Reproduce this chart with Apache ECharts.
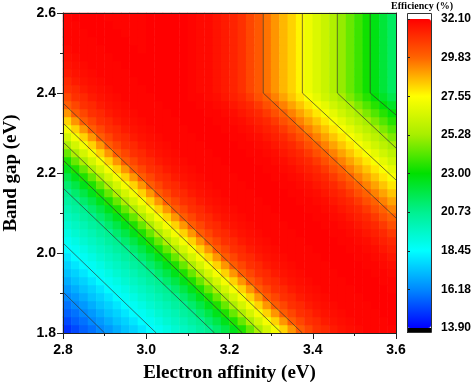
<!DOCTYPE html>
<html><head><meta charset="utf-8">
<script src="https://cdn.jsdelivr.net/npm/echarts@6/dist/echarts.min.js"></script>
<style>html,body{margin:0;padding:0;background:#fff}#c{width:474px;height:386px}</style>
</head><body><div id="c"></div>
<script>
// cell centres (eV)
const electronAffinity = [2.81,2.83,2.85,2.87,2.89,2.91,2.93,2.95,2.97,2.99,3.01,3.03,3.05,3.07,3.09,3.11,3.13,3.15,3.17,3.19,3.21,3.23,3.25,3.27,3.29,3.31,3.33,3.35,3.37,3.39,3.41,3.43,3.45,3.47,3.49,3.51,3.53,3.55,3.57,3.59];
const bandGap = [1.81,1.83,1.85,1.87,1.89,1.91,1.93,1.95,1.97,1.99,2.01,2.03,2.05,2.07,2.09,2.11,2.13,2.15,2.17,2.19,2.21,2.23,2.25,2.27,2.29,2.31,2.33,2.35,2.37,2.39,2.41,2.43,2.45,2.47,2.49,2.51,2.53,2.55,2.57,2.59];
// efficiency (%) rows from bottom (Eg=1.81) to top (Eg=2.59)
const efficiency = [
[14.7,15.1,15.5,15.8,16.2,16.5,16.9,17.3,17.6,18.0,18.4,18.7,19.0,19.4,19.7,20.0,20.4,20.7,21.3,21.9,22.6,23.4,24.4,25.4,26.4,27.3,28.2,29.1,30.0,30.5,31.0,31.2,31.5,31.7,31.8,31.9,32.0,32.0,32.0,32.0],
[15.1,15.5,15.8,16.2,16.5,16.9,17.3,17.6,18.0,18.4,18.7,19.0,19.4,19.7,20.0,20.4,20.7,21.3,21.9,22.6,23.4,24.4,25.4,26.4,27.3,28.2,29.1,30.0,30.5,31.0,31.2,31.5,31.7,31.8,31.9,32.0,32.0,32.0,32.0,32.1],
[15.5,15.8,16.2,16.5,16.9,17.3,17.6,18.0,18.4,18.7,19.0,19.4,19.7,20.0,20.4,20.7,21.3,21.9,22.6,23.4,24.4,25.4,26.4,27.3,28.2,29.1,30.0,30.5,31.0,31.2,31.5,31.7,31.8,31.9,32.0,32.0,32.0,32.0,32.1,32.1],
[15.8,16.2,16.5,16.9,17.3,17.6,18.0,18.4,18.7,19.0,19.4,19.7,20.0,20.4,20.7,21.3,21.9,22.6,23.4,24.4,25.4,26.4,27.3,28.2,29.1,30.0,30.5,31.0,31.2,31.5,31.7,31.8,31.9,32.0,32.0,32.0,32.0,32.1,32.1,32.1],
[16.2,16.5,16.9,17.3,17.6,18.0,18.4,18.7,19.0,19.4,19.7,20.0,20.4,20.7,21.3,21.9,22.6,23.4,24.4,25.4,26.4,27.3,28.2,29.1,30.0,30.5,31.0,31.2,31.5,31.7,31.8,31.9,32.0,32.0,32.0,32.0,32.1,32.1,32.1,32.1],
[16.5,16.9,17.3,17.6,18.0,18.4,18.7,19.0,19.4,19.7,20.0,20.4,20.7,21.3,21.9,22.6,23.4,24.4,25.4,26.4,27.3,28.2,29.1,30.0,30.5,31.0,31.2,31.5,31.7,31.8,31.9,32.0,32.0,32.0,32.0,32.1,32.1,32.1,32.1,32.0],
[16.9,17.3,17.6,18.0,18.4,18.7,19.0,19.4,19.7,20.0,20.4,20.7,21.3,21.9,22.6,23.4,24.4,25.4,26.4,27.3,28.2,29.1,30.0,30.5,31.0,31.2,31.5,31.7,31.8,31.9,32.0,32.0,32.0,32.0,32.1,32.1,32.1,32.1,32.0,32.0],
[17.3,17.6,18.0,18.4,18.7,19.0,19.4,19.7,20.0,20.4,20.7,21.3,21.9,22.6,23.4,24.4,25.4,26.4,27.3,28.2,29.1,30.0,30.5,31.0,31.2,31.5,31.7,31.8,31.9,32.0,32.0,32.0,32.0,32.1,32.1,32.1,32.1,32.0,32.0,31.9],
[17.6,18.0,18.4,18.7,19.0,19.4,19.7,20.0,20.4,20.7,21.3,21.9,22.6,23.4,24.4,25.4,26.4,27.3,28.2,29.1,30.0,30.5,31.0,31.2,31.5,31.7,31.8,31.9,32.0,32.0,32.0,32.0,32.1,32.1,32.1,32.1,32.0,32.0,31.9,31.8],
[18.0,18.4,18.7,19.0,19.4,19.7,20.0,20.4,20.7,21.3,21.9,22.6,23.4,24.4,25.4,26.4,27.3,28.2,29.1,30.0,30.5,31.0,31.2,31.5,31.7,31.8,31.9,32.0,32.0,32.0,32.0,32.1,32.1,32.1,32.1,32.0,32.0,31.9,31.8,31.6],
[18.4,18.7,19.0,19.4,19.7,20.0,20.4,20.7,21.3,21.9,22.6,23.4,24.4,25.4,26.4,27.3,28.2,29.1,30.0,30.5,31.0,31.2,31.5,31.7,31.8,31.9,32.0,32.0,32.0,32.0,32.1,32.1,32.1,32.1,32.0,32.0,31.9,31.8,31.6,31.4],
[18.7,19.0,19.4,19.7,20.0,20.4,20.7,21.3,21.9,22.6,23.4,24.4,25.4,26.4,27.3,28.2,29.1,30.0,30.5,31.0,31.2,31.5,31.7,31.8,31.9,32.0,32.0,32.0,32.0,32.1,32.1,32.1,32.1,32.0,32.0,31.9,31.8,31.6,31.4,31.2],
[19.0,19.4,19.7,20.0,20.4,20.7,21.3,21.9,22.6,23.4,24.4,25.4,26.4,27.3,28.2,29.1,30.0,30.5,31.0,31.2,31.5,31.7,31.8,31.9,32.0,32.0,32.0,32.0,32.1,32.1,32.1,32.1,32.0,32.0,31.9,31.8,31.6,31.4,31.2,30.8],
[19.4,19.7,20.0,20.4,20.7,21.3,21.9,22.6,23.4,24.4,25.4,26.4,27.3,28.2,29.1,30.0,30.5,31.0,31.2,31.5,31.7,31.8,31.9,32.0,32.0,32.0,32.0,32.1,32.1,32.1,32.1,32.0,32.0,31.9,31.8,31.6,31.4,31.2,30.8,30.3],
[19.7,20.0,20.4,20.7,21.3,21.9,22.6,23.4,24.4,25.4,26.4,27.3,28.2,29.1,30.0,30.5,31.0,31.2,31.5,31.7,31.8,31.9,32.0,32.0,32.0,32.0,32.1,32.1,32.1,32.1,32.0,32.0,31.9,31.8,31.6,31.4,31.2,30.8,30.3,29.9],
[20.0,20.4,20.7,21.3,21.9,22.6,23.4,24.4,25.4,26.4,27.3,28.2,29.1,30.0,30.5,31.0,31.2,31.5,31.7,31.8,31.9,32.0,32.0,32.0,32.0,32.1,32.1,32.1,32.1,32.0,32.0,31.9,31.8,31.6,31.4,31.2,30.8,30.3,29.9,29.4],
[20.4,20.7,21.3,21.9,22.6,23.4,24.4,25.4,26.4,27.3,28.2,29.1,30.0,30.5,31.0,31.2,31.5,31.7,31.8,31.9,32.0,32.0,32.0,32.0,32.1,32.1,32.1,32.1,32.0,32.0,31.9,31.8,31.6,31.4,31.2,30.8,30.3,29.9,29.4,28.9],
[20.7,21.3,21.9,22.6,23.4,24.4,25.4,26.4,27.3,28.2,29.1,30.0,30.5,31.0,31.2,31.5,31.7,31.8,31.9,32.0,32.0,32.0,32.0,32.1,32.1,32.1,32.1,32.0,32.0,31.9,31.8,31.6,31.4,31.2,30.8,30.3,29.9,29.4,28.9,28.4],
[21.3,21.9,22.6,23.4,24.4,25.4,26.4,27.3,28.2,29.1,30.0,30.5,31.0,31.2,31.5,31.7,31.8,31.9,32.0,32.0,32.0,32.0,32.1,32.1,32.1,32.1,32.0,32.0,31.9,31.8,31.6,31.4,31.2,30.8,30.3,29.9,29.4,28.9,28.4,27.9],
[21.9,22.6,23.4,24.4,25.4,26.4,27.3,28.2,29.1,30.0,30.5,31.0,31.2,31.5,31.7,31.8,31.9,32.0,32.0,32.0,32.0,32.1,32.1,32.1,32.1,32.0,32.0,31.9,31.8,31.6,31.4,31.2,30.8,30.3,29.9,29.4,28.9,28.4,27.9,27.4],
[22.6,23.4,24.4,25.4,26.4,27.3,28.2,29.1,30.0,30.5,31.0,31.2,31.5,31.7,31.8,31.9,32.0,32.0,32.0,32.0,32.1,32.1,32.1,32.1,32.0,32.0,31.9,31.8,31.6,31.4,31.2,30.8,30.3,29.9,29.4,28.9,28.4,27.9,27.4,26.9],
[23.4,24.4,25.4,26.4,27.3,28.2,29.1,30.0,30.5,31.0,31.2,31.5,31.7,31.8,31.9,32.0,32.0,32.0,32.0,32.1,32.1,32.1,32.1,32.0,32.0,31.9,31.8,31.6,31.4,31.2,30.8,30.3,29.9,29.4,28.9,28.4,27.9,27.4,26.9,26.3],
[24.4,25.4,26.4,27.3,28.2,29.1,30.0,30.5,31.0,31.2,31.5,31.7,31.8,31.9,32.0,32.0,32.0,32.0,32.1,32.1,32.1,32.1,32.0,32.0,31.9,31.8,31.6,31.4,31.2,30.8,30.3,29.9,29.4,28.9,28.4,27.9,27.4,26.9,26.3,25.8],
[25.4,26.4,27.3,28.2,29.1,30.0,30.5,31.0,31.2,31.5,31.7,31.8,31.9,32.0,32.0,32.0,32.0,32.1,32.1,32.1,32.1,32.0,32.0,31.9,31.8,31.6,31.4,31.2,30.8,30.3,29.9,29.4,28.9,28.4,27.9,27.4,26.9,26.3,25.8,25.3],
[26.4,27.3,28.2,29.1,30.0,30.5,31.0,31.2,31.5,31.7,31.8,31.9,32.0,32.0,32.0,32.0,32.1,32.1,32.1,32.1,32.0,32.0,31.9,31.8,31.6,31.4,31.2,30.8,30.3,29.9,29.4,28.9,28.4,27.9,27.4,26.9,26.3,25.8,25.3,24.7],
[27.3,28.2,29.1,30.0,30.5,31.0,31.2,31.5,31.7,31.8,31.9,32.0,32.0,32.0,32.0,32.1,32.1,32.1,32.1,32.0,32.0,31.9,31.8,31.6,31.4,31.2,30.8,30.3,29.9,29.4,28.9,28.4,27.9,27.4,26.9,26.3,25.8,25.3,24.7,24.1],
[28.2,29.1,30.0,30.5,31.0,31.2,31.5,31.7,31.8,31.9,32.0,32.0,32.0,32.0,32.1,32.1,32.1,32.1,32.0,32.0,31.9,31.8,31.6,31.4,31.2,30.8,30.3,29.9,29.4,28.9,28.4,27.9,27.4,26.9,26.3,25.8,25.3,24.7,24.1,23.5],
[29.1,30.0,30.5,31.0,31.2,31.5,31.7,31.8,31.9,32.0,32.0,32.0,32.0,32.1,32.1,32.1,32.1,32.0,32.0,31.9,31.8,31.6,31.4,31.2,30.8,30.3,29.9,29.4,28.9,28.4,27.9,27.4,26.9,26.3,25.8,25.3,24.7,24.1,23.5,22.9],
[30.0,30.5,31.0,31.2,31.5,31.7,31.8,31.9,32.0,32.0,32.0,32.0,32.1,32.1,32.1,32.1,32.0,32.0,31.9,31.8,31.6,31.4,31.2,30.8,30.3,29.9,29.4,28.9,28.4,27.9,27.4,26.9,26.3,25.8,25.3,24.7,24.1,23.5,22.9,22.4],
[30.5,31.0,31.2,31.5,31.7,31.8,31.9,32.0,32.0,32.0,32.0,32.1,32.1,32.1,32.1,32.0,32.0,31.9,31.8,31.6,31.4,31.2,30.8,30.3,29.9,29.4,28.9,28.4,27.9,27.4,26.9,26.3,25.8,25.3,24.7,24.1,23.5,22.9,22.4,21.8],
[31.0,31.2,31.5,31.7,31.8,31.9,32.0,32.0,32.0,32.0,32.1,32.1,32.1,32.1,32.1,32.0,31.9,31.9,31.7,31.5,31.3,31.0,30.5,30.1,29.6,29.1,28.6,28.2,27.7,27.1,26.6,26.1,25.5,25.0,24.4,23.8,23.2,22.7,22.1,21.5],
[31.2,31.5,31.7,31.8,31.9,32.0,32.0,32.0,32.0,32.1,32.1,32.1,32.1,32.1,32.1,32.0,31.9,31.9,31.7,31.5,31.3,31.0,30.5,30.1,29.6,29.1,28.6,28.2,27.7,27.1,26.6,26.1,25.5,25.0,24.4,23.8,23.2,22.7,22.1,21.5],
[31.5,31.7,31.8,31.9,32.0,32.0,32.0,32.0,32.1,32.1,32.1,32.1,32.1,32.1,32.1,32.0,31.9,31.9,31.7,31.5,31.3,31.0,30.5,30.1,29.6,29.1,28.6,28.2,27.7,27.1,26.6,26.1,25.5,25.0,24.4,23.8,23.2,22.7,22.1,21.5],
[31.7,31.8,31.9,32.0,32.0,32.0,32.0,32.1,32.1,32.1,32.1,32.1,32.1,32.1,32.1,32.0,31.9,31.9,31.7,31.5,31.3,31.0,30.5,30.1,29.6,29.1,28.6,28.2,27.7,27.1,26.6,26.1,25.5,25.0,24.4,23.8,23.2,22.7,22.1,21.5],
[31.8,31.9,32.0,32.0,32.0,32.0,32.1,32.1,32.1,32.1,32.1,32.1,32.1,32.1,32.1,32.0,31.9,31.9,31.7,31.5,31.3,31.0,30.5,30.1,29.6,29.1,28.6,28.2,27.7,27.1,26.6,26.1,25.5,25.0,24.4,23.8,23.2,22.7,22.1,21.5],
[31.9,32.0,32.0,32.0,32.0,32.1,32.1,32.1,32.1,32.0,32.1,32.1,32.1,32.1,32.1,32.0,31.9,31.9,31.7,31.5,31.3,31.0,30.5,30.1,29.6,29.1,28.6,28.2,27.7,27.1,26.6,26.1,25.5,25.0,24.4,23.8,23.2,22.7,22.1,21.5],
[32.0,32.0,32.0,32.0,32.1,32.1,32.1,32.1,32.0,32.0,32.1,32.1,32.1,32.1,32.1,32.0,31.9,31.9,31.7,31.5,31.3,31.0,30.5,30.1,29.6,29.1,28.6,28.2,27.7,27.1,26.6,26.1,25.5,25.0,24.4,23.8,23.2,22.7,22.1,21.5],
[32.0,32.0,32.0,32.1,32.1,32.1,32.1,32.0,32.0,32.0,32.1,32.1,32.1,32.1,32.1,32.0,31.9,31.9,31.7,31.5,31.3,31.0,30.5,30.1,29.6,29.1,28.6,28.2,27.7,27.1,26.6,26.1,25.5,25.0,24.4,23.8,23.2,22.7,22.1,21.5],
[32.0,32.0,32.1,32.1,32.1,32.1,32.0,32.0,32.0,32.0,32.1,32.1,32.1,32.1,32.1,32.0,31.9,31.9,31.7,31.5,31.3,31.0,30.5,30.1,29.6,29.1,28.6,28.2,27.7,27.1,26.6,26.1,25.5,25.0,24.4,23.8,23.2,22.7,22.1,21.5],
[32.0,32.1,32.1,32.1,32.1,32.0,32.0,32.0,32.0,32.0,32.1,32.1,32.1,32.1,32.1,32.0,31.9,31.9,31.7,31.5,31.3,31.0,30.5,30.1,29.6,29.1,28.6,28.2,27.7,27.1,26.6,26.1,25.5,25.0,24.4,23.8,23.2,22.7,22.1,21.5]
];
// contour lines (EA, Eg)
const contour1618 = [[2.8,1.9025],[2.9,1.8]];
const contour1845 = [[2.8,2.025],[3.024,1.8]];
const contour2073 = [[2.8,2.1625],[3.164,1.8]];
const contour2300a = [[2.8,2.2325],[3.231,1.8]];
const contour2528a = [[2.8,2.2775],[3.277,1.8]];
const contour2755a = [[2.8,2.325],[3.325,1.8]];
const contour2983a = [[2.8,2.375],[3.375,1.8]];
const contour2983b = [[3.281,2.6],[3.281,2.4],[3.6,2.0875]];
const contour2755b = [[3.375,2.6],[3.375,2.4],[3.6,2.1825]];
const contour2528b = [[3.459,2.6],[3.459,2.4],[3.6,2.2625]];
const contour2300b = [[3.538,2.6],[3.538,2.4],[3.6,2.345]];
const contourSet = [contour1618,contour1845,contour2073,contour2300a,contour2528a,contour2755a,contour2983a,contour2983b,contour2755b,contour2528b,contour2300b];
// colour bar ticks
const cbTickValues = [13.90,16.18,18.45,20.73,23.00,25.28,27.55,29.83,32.10];
const cbTickLabels = ['13.90','16.18','18.45','20.73','23.00','25.28','27.55','29.83','32.10'];
const cbColors = ['#0000ff','#0088ff','#00ffff','#00f090','#00e000','#a8ee00','#ffff00','#ff6400','#ff0000'];

const heatData = [];
for (let j = 0; j < bandGap.length; j++) {
  for (let i = 0; i < electronAffinity.length; i++) {
    heatData.push([i, j, efficiency[j][i]]);
  }
}
const labelFont = {fontFamily: 'Liberation Sans', fontWeight: 'bold', fontSize: 14, color: '#000'};
const nameFont = {fontFamily: 'Liberation Serif', fontWeight: 'bold', fontSize: 19, color: '#000'};

const chart = echarts.init(document.getElementById('c'), null, {renderer: 'canvas'});
const series = [{
  type: 'heatmap', xAxisIndex: 0, yAxisIndex: 0, data: heatData, z: 1, silent: true,
  emphasis: {disabled: true}, progressive: 0
}];
contourSet.forEach(function (pts) {
  series.push({
    type: 'line', xAxisIndex: 1, yAxisIndex: 1, data: pts, symbol: 'none', silent: true, z: 3,
    lineStyle: {color: '#333', width: 0.8, opacity: 0.85}, animation: false
  });
});
chart.setOption({
  animation: false,
  backgroundColor: '#fff',
  grid: [
    {left: 63, top: 13, width: 333, height: 320, containLabel: false, outerBoundsMode: 'none'},
    {left: 407, top: 19, width: 24, height: 309, containLabel: false, outerBoundsMode: 'none'}
  ],
  xAxis: [
    {type: 'category', gridIndex: 0, data: electronAffinity, show: false},
    {type: 'value', gridIndex: 0, min: 2.8, max: 3.6, interval: 0.2, position: 'bottom', z: 5,
      axisLine: {show: true, lineStyle: {color: '#222', width: 1}},
      axisTick: {show: true, inside: false, length: 6, lineStyle: {color: '#222'}},
      minorTick: {show: true, splitNumber: 2, length: 3, lineStyle: {color: '#222'}},
      splitLine: {show: false},
      axisLabel: Object.assign({margin: 10, formatter: function (v) { return v.toFixed(1); }}, labelFont),
      name: 'Electron affinity (eV)', nameLocation: 'middle', nameGap: 31, nameTextStyle: nameFont},
    {type: 'value', gridIndex: 0, min: 2.8, max: 3.6, position: 'top', z: 5,
      axisLine: {show: true, lineStyle: {color: '#222', width: 1}},
      axisTick: {show: false}, axisLabel: {show: false}, splitLine: {show: false}},
    {type: 'value', gridIndex: 1, min: 0, max: 1, show: false}
  ],
  yAxis: [
    {type: 'category', gridIndex: 0, data: bandGap, show: false},
    {type: 'value', gridIndex: 0, min: 1.8, max: 2.6, interval: 0.2, position: 'left', z: 5,
      axisLine: {show: true, lineStyle: {color: '#222', width: 1}},
      axisTick: {show: true, inside: false, length: 6, lineStyle: {color: '#222'}},
      minorTick: {show: true, splitNumber: 2, length: 3, lineStyle: {color: '#222'}},
      splitLine: {show: false},
      axisLabel: Object.assign({margin: 7, formatter: function (v) { return v.toFixed(1); }}, labelFont),
      name: 'Band gap (eV)', nameLocation: 'middle', nameGap: 42, nameTextStyle: nameFont},
    {type: 'value', gridIndex: 0, min: 1.8, max: 2.6, position: 'right', z: 5,
      axisLine: {show: true, lineStyle: {color: '#222', width: 1}},
      axisTick: {show: false}, axisLabel: {show: false}, splitLine: {show: false}},
    {type: 'value', gridIndex: 1, min: 13.9, max: 32.1, position: 'right', z: 5,
      axisLine: {show: false},
      axisTick: {show: true, length: 3, customValues: cbTickValues, lineStyle: {color: '#222'}},
      splitLine: {show: false},
      axisLabel: {show: true, margin: 10, customValues: cbTickValues,
        fontFamily: 'Liberation Sans', fontWeight: 'bold', fontSize: 12, color: '#000',
        formatter: function (v) {
          let best = 0, d = 1e9;
          cbTickValues.forEach(function (t, k) { if (Math.abs(t - v) < d) { d = Math.abs(t - v); best = k; } });
          return cbTickLabels[best];
        }}}
  ],
  visualMap: {
    type: 'continuous', min: 13.9, max: 32.1, seriesIndex: 0, dimension: 2,
    calculable: false, realtime: false, hoverLink: false,
    orient: 'vertical', left: 407, top: 19, itemWidth: 24, itemHeight: 309, padding: 0,
    inRange: {color: cbColors}, textStyle: {color: 'transparent'}
  },
  graphic: [
    {type: 'rect', shape: {x: 407, y: 328, width: 24, height: 5}, style: {fill: '#000'}, z: 100},
    {type: 'rect', shape: {x: 407.5, y: 13.5, width: 24, height: 319}, style: {fill: 'none', stroke: '#333', lineWidth: 1}, z: 101},
    {type: 'text', x: 422, y: 6, z: 102, style: {text: 'Efficiency (%)', textAlign: 'center', textVerticalAlign: 'middle',
      font: 'bold 10px "Liberation Serif"', fill: '#000'}}
  ],
  series: series
});
</script></body></html>
